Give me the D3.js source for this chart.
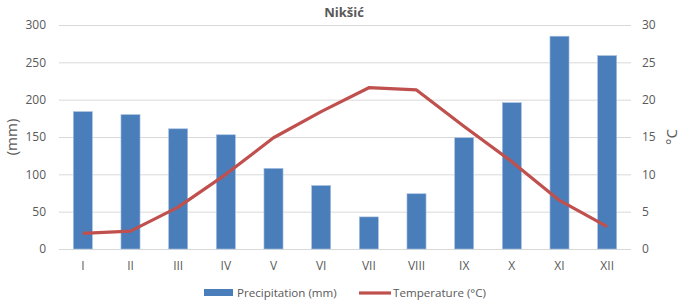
<!DOCTYPE html>
<html lang="en">
<head>
<meta charset="UTF-8">
<title>Nikšić</title>
<script src="https://d3js.org/d3.v7.min.js"></script>
<style>
  body { margin: 0; background: #fff; }
  text { font-family: 'Open Sans', 'Noto Sans', sans-serif; fill: #595959; }
</style>
</head>
<body>
<script>
const months = ["I", "II", "III", "IV", "V", "VI", "VII", "VIII", "IX", "X", "XI", "XII"];
const precipitation = [184, 180, 161, 153, 108, 85, 43, 74, 149, 196, 285, 259];
const temperature = [2.1, 2.4, 5.6, 10.0, 14.9, 18.4, 21.6, 21.3, 16.4, 11.7, 6.5, 3.0];
const mmTicks = [0, 50, 100, 150, 200, 250, 300];
const degTicks = [0, 5, 10, 15, 20, 25, 30];

const width = 685, height = 301;
const m = { left: 59, right: 54, top: 25, bottom: 52 };

const svg = d3.select("body").append("svg")
  .attr("width", width).attr("height", height);

const x = d3.scaleBand().domain(months)
  .range([m.left, width - m.right]).paddingInner(0.6).paddingOuter(0.3);
const yL = d3.scaleLinear().domain([0, 300]).range([height - m.bottom, m.top]);
const yR = d3.scaleLinear().domain([0, 30]).range([height - m.bottom, m.top]);

// gridlines
svg.append("g").selectAll("line").data(mmTicks).join("line")
  .attr("x1", m.left).attr("x2", width - m.right)
  .attr("y1", d => yL(d) + 0.5).attr("y2", d => yL(d) + 0.5)
  .attr("stroke", "#d9d9d9").attr("stroke-width", 1);

// left axis
const gL = svg.append("g").attr("transform", `translate(${m.left},0)`)
  .call(d3.axisLeft(yL).tickValues(mmTicks).tickSize(0).tickPadding(13));
gL.select(".domain").remove();
gL.selectAll("text").style("font-size", "12px").attr("fill", "#595959");

// right axis
const gR = svg.append("g").attr("transform", `translate(${width - m.right},0)`)
  .call(d3.axisRight(yR).tickValues(degTicks).tickSize(0).tickPadding(11));
gR.select(".domain").remove();
gR.selectAll("text").style("font-size", "12px").attr("fill", "#595959");

// bottom axis
const gX = svg.append("g").attr("transform", `translate(0,${height - m.bottom})`)
  .call(d3.axisBottom(x).tickSize(0).tickPadding(12));
gX.select(".domain").remove();
gX.selectAll("text").style("font-size", "12px").attr("fill", "#595959");

// bars
svg.append("g").selectAll("rect").data(precipitation).join("rect")
  .attr("x", (d, i) => x(months[i]))
  .attr("width", x.bandwidth())
  .attr("y", d => yL(d))
  .attr("height", d => yL(0) - yL(d))
  .attr("fill", "#4a7ebb")
  .attr("stroke", "#a9c2e2").attr("stroke-width", 0.6);

// temperature line
const line = d3.line()
  .x((d, i) => x(months[i]) + x.bandwidth() / 2)
  .y(d => yR(d));
svg.append("path").datum(temperature)
  .attr("d", line)
  .attr("fill", "none")
  .attr("stroke", "#c0504d")
  .attr("stroke-width", 3.2)
  .attr("stroke-linejoin", "round");

// title
svg.append("text").attr("x", 344).attr("y", 17)
  .attr("text-anchor", "middle")
  .style("font-size", "13px").style("font-weight", "bold")
  .text("Nikšić");

// axis titles
svg.append("text")
  .attr("transform", `translate(17,${(yL(0) + yL(300)) / 2}) rotate(-90)`)
  .attr("text-anchor", "middle")
  .style("font-size", "15px")
  .text("(mm)");
svg.append("text")
  .attr("transform", `translate(677,${(yL(0) + yL(300)) / 2}) rotate(-90)`)
  .attr("text-anchor", "middle")
  .style("font-size", "15px")
  .text("°C");

// legend
const lg = svg.append("g");
lg.append("rect").attr("x", 204).attr("y", 289).attr("width", 29).attr("height", 7)
  .attr("fill", "#4a7ebb");
lg.append("text").attr("x", 237).attr("y", 297).style("font-size", "11.6px")
  .text("Precipitation (mm)");
lg.append("line").attr("x1", 359).attr("x2", 391).attr("y1", 293).attr("y2", 293)
  .attr("stroke", "#c0504d").attr("stroke-width", 3.2);
lg.append("text").attr("x", 393).attr("y", 297).style("font-size", "11.6px")
  .text("Temperature (°C)");
</script>
</body>
</html>
